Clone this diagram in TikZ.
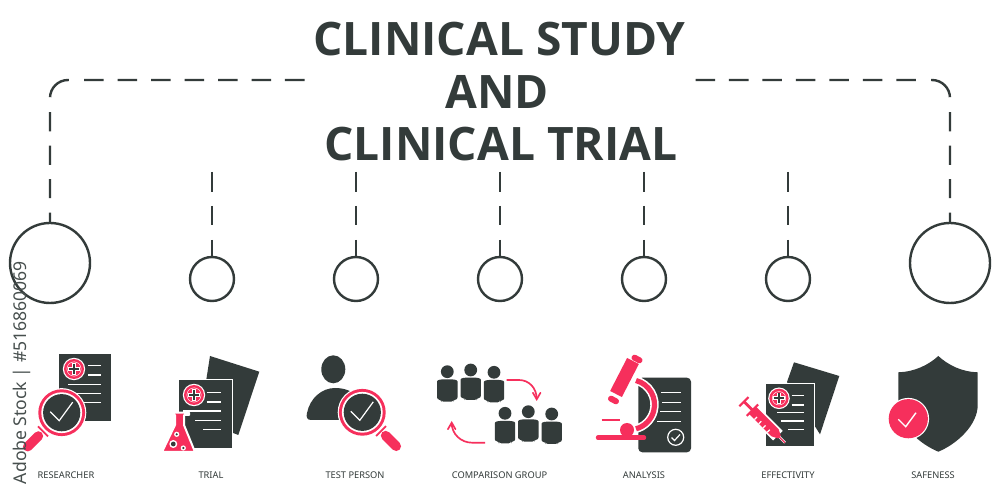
\documentclass[tikz,border=0pt]{standalone}
\usepackage{fontspec}
\setmainfont{Noto Sans}
\newfontfamily\titlefont{Open Sans}
\usetikzlibrary{arrows,calc}
\definecolor{slate}{HTML}{333B3A}
\definecolor{rose}{HTML}{F62F5C}
\tikzset{
	ring/.style={draw=slate,circle,line width=0.6mm,inner sep=0pt,minimum size=#1*0.25mm},
	gap/.style={draw=slate,line width=0.6mm,dash pattern=on 13.9pt off 10.2pt},
	longgap/.style={draw=slate,line width=0.6mm,dash pattern=on 13.9pt off 9.9pt on 13.9pt off 9.9pt on 13.9pt off 9.9pt on 13.9pt off 9.9pt on 13.9pt off 9.9pt on 13.9pt off 9.9pt on 13.9pt off 10.9pt on 20.1pt off 10.7pt on 13.6pt off 10.2pt on 13.6pt off 10.2pt on 13.6pt off 10.2pt on 7pt off 40pt},
	head/.style={font=\titlefont\bfseries\fontsize{32.8}{32.8}\selectfont,text=slate,anchor=base,inner sep=0pt},
	tag/.style={font=\fontsize{6.6}{7}\selectfont,text=slate,inner sep=0pt},
	rule/.style={draw=white,line width=0.3mm},
	pen/.style={draw=rose,line width=0.42mm},
}
% red cross badge
\newcommand{\badge}[3]{
	\fill[white] (#1,#2) circle (#3+1.2);
	\fill[rose] (#1,#2) circle (#3);
	\fill[white] (#1,#2) circle (#3-2.6);
	\fill[rose] (#1,#2) circle (#3-3.2);
	\fill[white] (#1-5.6,#2-2) rectangle (#1+5.6,#2+2);
	\fill[white] (#1-2,#2-5.6) rectangle (#1+2,#2+5.6);
	\fill[slate] (#1-4.8,#2-.9) rectangle (#1+4.8,#2+.9);
	\fill[slate] (#1-.9,#2-4.8) rectangle (#1+.9,#2+4.8);
}
% magnifier, handle pointing along #3
\newcommand{\lens}[3]{
	\begin{scope}[shift={(#1,#2)},rotate=#3]
	\draw[rose,line width=2.4mm,line cap=round] (33,0)--(48,0);
	\draw[rose,line width=.45mm] (26.5,-7)--(26.5,7);
	\end{scope}
	\fill[white] (#1,#2) circle (24.6);
	\fill[rose] (#1,#2) circle (23.4);
	\fill[white] (#1,#2) circle (20.4);
	\fill[slate] (#1,#2) circle (18.6);
	\draw[white,line width=.3mm] (#1-11.5,#2-1) -- (#1-2.5,#2+8) -- (#1+11,#2-10.5);
}
% one person of the group
\newcommand{\guy}[2]{
	\fill[slate] (#1,#2) circle (6.4);
	\fill[slate,rounded corners=1.6] (#1-10.2,#2+18) -- (#1-10.2,#2+12) .. controls (#1-10.2,#2+8) and (#1-6,#2+7.6) .. (#1,#2+7.6) .. controls (#1+6,#2+7.6) and (#1+10.2,#2+8) .. (#1+10.2,#2+12) -- (#1+10.2,#2+28) -- (#1+6,#2+28) -- (#1+6,#2+30) -- (#1-6,#2+30) -- (#1-6,#2+28) -- (#1-10.2,#2+28) -- cycle;
}
\begin{document}
\begin{tikzpicture}[x=0.25mm,y=-0.25mm]
	\useasboundingbox (0,0) rectangle (1000,500);
	\fill[white] (0,0) rectangle (1000,500);

	% title
	\node[head] (titlea) at (499.5,56) {CLINICAL STUDY};
	\node[head] (titleb) at (497,108.3) {AND};
	\node[head] (titlec) at (501,161) {CLINICAL TRIAL};

	% rings
	\node[ring=80] (researcher) at (50,263) {};
	\node[ring=44] (trial) at (212,279) {};
	\node[ring=44] (person) at (356,279) {};
	\node[ring=44] (group) at (500,279) {};
	\node[ring=44] (analysis) at (644,279) {};
	\node[ring=44] (effect) at (788,279) {};
	\node[ring=80] (safe) at (950,263) {};

	% connectors
	\coordinate (lefttop) at (304.5,80);
	\coordinate (righttop) at (695.5,80);
	\draw[longgap,rounded corners=4.5mm] (lefttop) -| (researcher.north);
	\draw[longgap,rounded corners=4.5mm] (righttop) -| (safe.north);
	\foreach \n/\x in {trial/212,person/356,group/500,analysis/644,effect/788} {
		\coordinate (top\n) at (\x,172);
		\draw[gap] (top\n) -- (\n.north);
	}

	% researcher
	\fill[slate] (59,354) rectangle (111,421);
	\foreach \y in {365.7,375} \draw[rule] (88,\y)--(101,\y);
	\foreach \y in {384.3,393.3,402.7} \draw[rule] (68,\y)--(101,\y);
	\badge{74}{369}{10}
	\lens{61.7}{412.7}{-135}

	% trial
	\fill[slate] (210,356)--(259.3,371.7)--(238.3,435)--(200,420)--cycle;
	\fill[white] (178,379) rectangle (232.7,448.7);
	\fill[slate] (179,380.5) rectangle (231.5,447.7);
	\foreach \y in {392.7,402} \draw[rule] (206.7,\y)--(220.7,\y);
	\draw[rule] (183,411)--(220.7,411);
	\draw[rule] (195,420.3)--(220.7,420.3);
	\draw[rule] (203,429.3)--(220.7,429.3);
	\badge{194}{395}{10}
	\draw[white,line width=.5mm,fill=rose,line join=round] (169,412.7)--(189,412.7)--(189,415)--(184,415)--(184,425)--(195,452)--(162,452)--(175,425)--(175,415)--(169,415)--cycle;
	\fill[white] (176.7,434.3) circle (2.6) (173.3,444) circle (4) (183.3,448) circle (2.6);
	\fill[slate] (176.7,434.3) circle (1.2) (173.3,444) circle (2.4) (183.3,448) circle (1.2);

	% test person
	\fill[slate] (333.3,369.3) ellipse (12 and 14);
	\fill[slate] (311,420) .. controls (307,420) and (306,417) .. (307,413) .. controls (310,398) and (322,388) .. (335,388) .. controls (345,388) and (352,391) .. (360,398) -- (360,420) -- cycle;
	\lens{362.3}{412.3}{-45}

	% comparison group
	\foreach \x/\y in {447.3/371.7,470.7/370,494/372.3,505/413.3,528.3/411.7,551.7/414} \guy{\x}{\y}
	\coordinate (groupa) at (506.7,380);
	\coordinate (groupb) at (536.7,401);
	\coordinate (groupc) at (485,442.7);
	\coordinate (groupd) at (451.7,421);
	\draw[pen,-angle 60] (groupa) -- (519,380) .. controls (529,380) and (536.7,388) .. (groupb);
	\draw[pen,-angle 60] (groupc) -- (472,442.7) .. controls (461,442.7) and (451.7,434) .. (groupd);

	% analysis
	\fill[slate,rounded corners=1mm] (638.3,377.7) rectangle (691,452.3);
	\foreach \y/\x in {392.7/661,402.3/662,411.7/660,421.3/657} \draw[rule] (\x,\y)--(680.7,\y);
	\draw[white,line width=.3mm] (675.7,437.3) circle (8);
	\draw[white,line width=.3mm] (671.5,437.5)--(674.5,440.5)--(680,434.5);
	\draw[white,line width=2.1mm] (636,380.5) arc (-75:75:25);
	\draw[rose,line width=1.3mm] (636,380.5) arc (-75:75:25);
	\draw[rose,line width=3.3mm] (633,361)--(616,394);
	\draw[rose,line width=1.5mm,line cap=round] (634.5,357.7)--(639.5,360.3);
	\draw[rose,line width=1.5mm,line cap=round] (611,398.7)--(616,401.3);
	\fill[white] (627,430) circle (8.2);
	\draw[white,line width=.9mm] (597.3,437.7)--(645,437.7);
	\draw[rose,line width=1.1mm,line cap=round] (598,437.7)--(644,437.7);
	\fill[rose] (627,430) circle (7);
	\draw[rose,line width=.4mm] (601.7,420.3)--(620,420.3);

	% effectivity
	\fill[slate] (794,362.3)--(839.3,376)--(820,434.3)--(787,382)--cycle;
	\fill[white] (764.7,383) rectangle (815.3,447);
	\fill[slate] (765.7,384.3) rectangle (814,446);
	\foreach \y in {395.7,405} \draw[rule] (791.7,\y)--(804,\y);
	\draw[rule] (777,412.7)--(804,412.7);
	\draw[rule] (780.7,421)--(804,421);
	\draw[rule] (788,429.3)--(804,429.3);
	\badge{779}{398.3}{9.6}
	\begin{scope}[shift={(785,442.7)},rotate=135]
	\draw[white,line width=3.4mm] (10,0)--(46,0);
	\draw[white,line width=.6mm] (0,0)--(10,0);
	\draw[rose,line width=.3mm] (0,0)--(10,0);
	\fill[rose] (8,-2)--(14,-5)--(46,-5)--(46,5)--(14,5)--(8,2)--cycle;
	\fill[rose] (46,-1.4) rectangle (58,1.4);
	\draw[rose,line width=.55mm] (46,-8)--(46,8);
	\draw[rose,line width=.55mm] (58,-6.5)--(58,6.5);
	\foreach \t in {20,26,32,38} \draw[white,line width=.3mm] (\t,-5.2)--(\t,-1.6);
	\end{scope}

	% safeness
	\fill[slate] (938.3,356) .. controls (948,365) and (962,372) .. (977.7,372.3) -- (977.7,405) .. controls (977.7,425) and (957,444) .. (938.3,451.7) .. controls (919.6,444) and (898.3,425) .. (898.3,405) -- (898.3,372.3) .. controls (914,372) and (928.6,365) .. cycle;
	\fill[white] (908.3,418.7) circle (20.8);
	\fill[rose] (908.3,418.7) circle (19.6);
	\draw[white,line width=.35mm] (898.3,419.3)--(905.7,426.7)--(916,412.7);

	% labels
	\node[tag] (researcherlab) at (66,475.5) {RESEARCHER};
	\node[tag] (triallab) at (211,475.5) {TRIAL};
	\node[tag] (personlab) at (355,475.5) {TEST PERSON};
	\node[tag] (grouplab) at (499.5,475.5) {COMPARISON GROUP};
	\node[tag] (analysislab) at (644,475.5) {ANALYSIS};
	\node[tag] (effectlab) at (788,475.5) {EFFECTIVITY};
	\node[tag] (safelab) at (933,475.5) {SAFENESS};

	% side strip
	\node[rotate=90,font=\fontsize{12.5}{12.5}\selectfont,text=slate!90,inner sep=0pt] (strip) at (22,372.5) {Adobe Stock | \#516860069};
\end{tikzpicture}
\end{document}
